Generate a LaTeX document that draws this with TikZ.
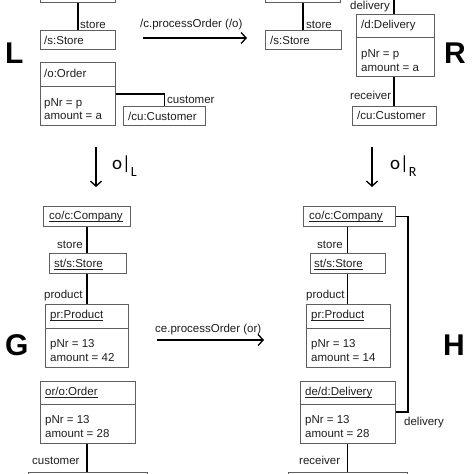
\documentclass[tikz,border=0pt]{standalone}
\usepackage{fontspec}
\setmainfont{Liberation Sans}
\newfontfamily\calib{Carlito}
\usetikzlibrary{arrows.meta}
\definecolor{boxgray}{RGB}{95,95,95}
\definecolor{txtgray}{RGB}{30,30,30}
\newcommand\myul[1]{\setbox0\hbox{#1}\rlap{\rule[-2.6pt]{\wd0}{0.6pt}}\box0}
\begin{document}
\begin{tikzpicture}[x=1pt,y=-1pt,
  box/.style={draw=boxgray, line width=0.8pt, inner sep=0pt, anchor=north west},
  divider/.style={draw=boxgray, line width=0.8pt},
  txt/.style={inner sep=0pt, anchor=base west, font=\fontsize{11.5}{13}\selectfont, text=txtgray},
  link/.style={line width=1.4pt, black},
  big/.style={inner sep=0pt, anchor=base west, font=\bfseries\fontsize{30}{30}\selectfont},
  restr/.style={inner sep=0pt, anchor=base west, font=\calib\fontsize{19}{19}\selectfont},
  arr/.style={line width=1.3pt, -{Straight Barb[length=5pt,width=11pt,line width=1.3pt]}}]
\useasboundingbox (0,0) rectangle (474,474);
\clip (0,0) rectangle (474,474);

% ---------- L ----------
\node[box, minimum width=75pt, minimum height=22pt] (topL) at (40,-20) {};
\node[box, minimum width=75pt, minimum height=19pt] (sL) at (40,30) {};
\node[box, minimum width=75pt, minimum height=63pt] (oL) at (40,62) {};
\draw[divider] ([yshift=-24pt]oL.north west) -- ([yshift=-24pt]oL.north east);
\node[box, minimum width=82pt, minimum height=19pt] (cuL) at (123,106) {};
\node[txt] (tsL) at (44,44) {/s:Store};
\node[txt] (toL) at (44,77) {/o:Order};
\node[txt] (tpL) at (44,106) {pNr = p};
\node[txt] (taL) at (44,119) {amount = a};
\node[txt] (tcuL) at (128,120) {/cu:Customer};
\draw[link] (topL.south) -- (sL.north);
\draw[link] ([yshift=-32pt]oL.north east) -| (cuL.north);
\node[txt] (lstL) at (80,28) {store};
\node[txt] (lcuL) at (167,103) {customer};
\node[big] (bigL) at (5,63) {L};

% ---------- top arrow ----------
\coordinate (a1s) at (143,38);
\coordinate (a1e) at (247,38);
\draw[arr] (a1s) -- (a1e);
\node[txt] (lpo) at (140,27) {/c.processOrder (/o)};

% ---------- R ----------
\node[box, minimum width=75pt, minimum height=22pt] (topR) at (265,-20) {};
\node[box, minimum width=76pt, minimum height=19pt] (sR) at (265,30) {};
\node[box, minimum width=78pt, minimum height=62pt] (dR) at (356,14) {};
\draw[divider] ([yshift=-23pt]dR.north west) -- ([yshift=-23pt]dR.north east);
\node[box, minimum width=84pt, minimum height=19pt] (cuR) at (352,106) {};
\node[txt] (tsR) at (270,44) {/s:Store};
\node[txt] (tdR) at (361,28) {/d:Delivery};
\node[txt] (tpR) at (361,57) {pNr = p};
\node[txt] (taR) at (361,71) {amount = a};
\node[txt] (tcuR) at (357,119) {/cu:Customer};
\coordinate (dtop) at (394,-5);
\draw[link] (topR.south) -- (topR.south |- sR.north);
\draw[link] (dtop) -- (dtop |- dR.north);
\draw[link] (dtop |- dR.south) -- (dtop |- cuR.north);
\node[txt] (lstR) at (306,28) {store};
\node[txt] (ldR) at (350,9.5) {delivery};
\node[txt] (lrR) at (350,99) {receiver};
\node[big] (bigR) at (444,63) {R};

% ---------- vertical arrows ----------
\coordinate (v1s) at (96,147);
\coordinate (v1e) at (96,187);
\draw[arr] (v1s) -- (v1e);
\node[restr] (oLl) at (112,169) {o|\raisebox{-7pt}{\fontsize{14}{14}\selectfont L}};
\coordinate (v2s) at (372,147);
\coordinate (v2e) at (372,187);
\draw[arr] (v2s) -- (v2e);
\node[restr] (oRl) at (390,169) {o|\raisebox{-7pt}{\fontsize{14}{14}\selectfont R}};

% ---------- G ----------
\node[box, minimum width=87pt, minimum height=20pt] (coG) at (43,206) {};
\node[box, minimum width=77pt, minimum height=20pt] (stG) at (49,253) {};
\node[box, minimum width=83pt, minimum height=63pt] (prG) at (45,304) {};
\draw[divider] ([yshift=-24pt]prG.north west) -- ([yshift=-24pt]prG.north east);
\node[box, minimum width=95pt, minimum height=62pt] (orG) at (40,381) {};
\draw[divider] ([yshift=-23pt]orG.north west) -- ([yshift=-23pt]orG.north east);
\node[box, minimum width=119pt, minimum height=30pt] (cuG) at (28,472) {};
\node[txt] (tcoG) at (49,219) {\myul{co/c:Company}};
\node[txt] (tstG) at (54,267) {\myul{st/s:Store}};
\node[txt] (tprG) at (50,318) {\myul{pr:Product}};
\node[txt] (tppG) at (50,347) {pNr = 13};
\node[txt] (tpaG) at (50,361) {amount = 42};
\node[txt] (torG) at (45,395) {\myul{or/o:Order}};
\node[txt] (topG) at (45,423) {pNr = 13};
\node[txt] (toaG) at (45,437) {amount = 28};
\coordinate (gx) at (87,0);
\draw[link] (gx |- coG.south) -- (gx |- stG.north);
\draw[link] (gx |- stG.south) -- (gx |- prG.north);
\draw[link] (gx |- orG.south) -- (gx |- cuG.north);
\node[txt] (lstG) at (57,248) {store};
\node[txt] (lprG) at (44,298) {product};
\node[txt] (lcuG) at (32,464) {customer};
\node[big] (bigG) at (5,355) {G};

% ---------- bottom arrow ----------
\coordinate (a2s) at (157,340);
\coordinate (a2e) at (264,340);
\draw[arr] (a2s) -- (a2e);
\node[txt] (lce) at (155,332) {ce.processOrder (or)};

% ---------- H ----------
\node[box, minimum width=92pt, minimum height=20pt] (coH) at (303,206) {};
\node[box, minimum width=75pt, minimum height=20pt] (stH) at (310,253) {};
\node[box, minimum width=84pt, minimum height=63pt] (prH) at (306,304) {};
\draw[divider] ([yshift=-24pt]prH.north west) -- ([yshift=-24pt]prH.north east);
\node[box, minimum width=95pt, minimum height=62pt] (deH) at (300,381) {};
\draw[divider] ([yshift=-23pt]deH.north west) -- ([yshift=-23pt]deH.north east);
\node[box, minimum width=119pt, minimum height=30pt] (rcH) at (288,472) {};
\node[txt] (tcoH) at (309,219) {\myul{co/c:Company}};
\node[txt] (tstH) at (314,267) {\myul{st/s:Store}};
\node[txt] (tprH) at (311,318) {\myul{pr:Product}};
\node[txt] (tppH) at (311,347) {pNr = 13};
\node[txt] (tpaH) at (311,361) {amount = 14};
\node[txt] (tdeH) at (305,395) {\myul{de/d:Delivery}};
\node[txt] (tdpH) at (305,423) {pNr = 13};
\node[txt] (tdaH) at (305,437) {amount = 28};
\coordinate (hx) at (347.5,0);
\coordinate (hr) at (408,0);
\coordinate (dlv) at ([yshift=-31pt]deH.north east);
\draw[link] (hx |- coH.south) -- (hx |- stH.north);
\draw[link] (hx |- stH.south) -- (hx |- prH.north);
\draw[link] (hx |- deH.south) -- (hx |- rcH.north);
\draw[link] (coH.east) -- (coH.east -| hr) -- (hr |- dlv) -- (dlv);
\node[txt] (lstH) at (317,248) {store};
\node[txt] (lprH) at (306,298) {product};
\node[txt] (ldH) at (404,425) {delivery};
\node[txt] (lrH) at (299,464) {receiver};
\node[big] (bigH) at (443,355) {H};
\end{tikzpicture}
\end{document}
